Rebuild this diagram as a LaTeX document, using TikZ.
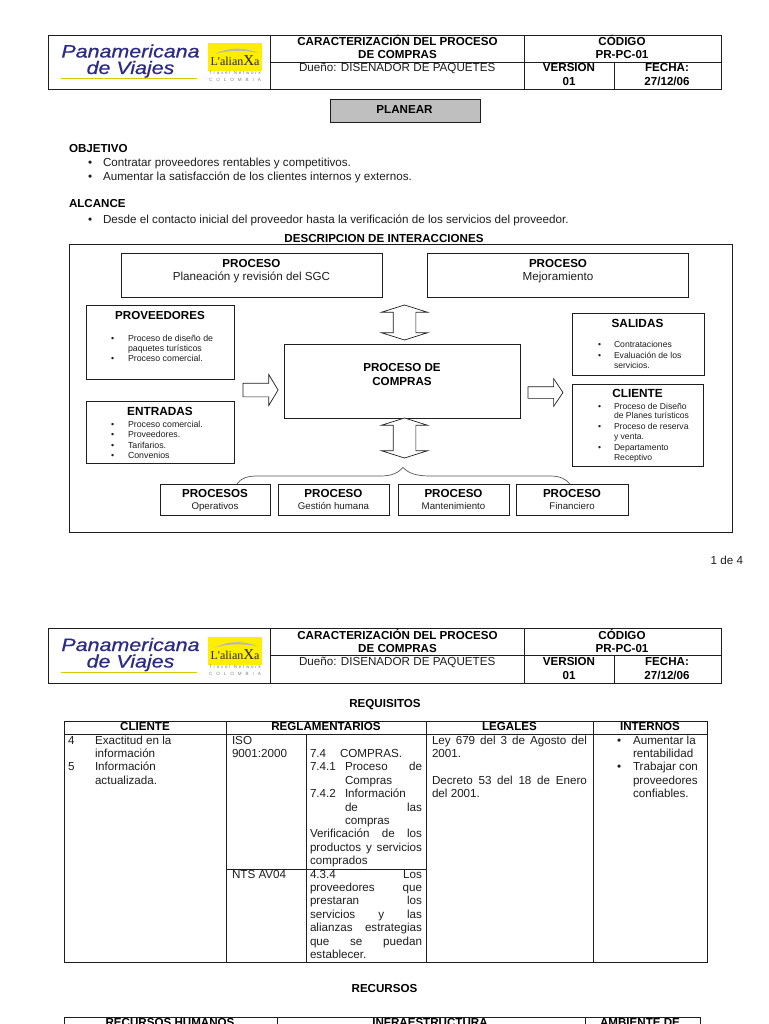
\documentclass[tikz,border=0pt]{standalone}
\usepackage{fontspec}
\usepackage{graphicx}
\setmainfont{Liberation Sans}
\newfontfamily\logoserif{Liberation Serif}
\newfontfamily\logosans[FakeBold=0.6]{Liberation Sans}
\usetikzlibrary{shapes.arrows}
\definecolor{ink}{HTML}{1E1E1E}
\definecolor{logoblue}{HTML}{2B2A86}
\definecolor{logoyellow}{HTML}{FFEE00}
\newcommand\bx[6][]{\node[bxs,#1,minimum width={(#5-#3)*1pt},minimum height={(#6-#4)*1pt}] (#2) at ({(#3+#5)/2},{(#4+#6)/2}) {};}
\newcommand\J[2]{\makebox[#1pt][s]{#2}}
\newcommand\logoword[1]{\scalebox{1.19}[1]{\logosans\itshape #1}}
\tikzset{
  bxs/.style={draw=ink,line width=.8pt,inner sep=0,outer sep=0,fill=white},
  tl/.style={anchor=base west,inner sep=0,outer sep=0,text=ink},
  tc/.style={anchor=base,inner sep=0,outer sep=0,text=ink},
  tr/.style={anchor=base east,inner sep=0,outer sep=0,text=ink},
  body/.style={font=\fontsize{11.65}{13}\selectfont},
  head/.style={font=\fontsize{11.6}{13}\selectfont\bfseries,text=black},
  bighead/.style={font=\fontsize{11.8}{13}\selectfont\bfseries,text=black},
  tiny/.style={font=\fontsize{8.8}{10}\selectfont},
  tinyr/.style={font=\fontsize{8.6}{10}\selectfont},
  sub/.style={font=\fontsize{9.7}{11}\selectfont},
  rule/.style={draw=ink,line width=.8pt},
  blockr/.style={single arrow,draw=ink,line width=.7pt,fill=white,inner xsep=0pt,outer sep=0},
  blockd/.style={double arrow,draw=ink,line width=.7pt,fill=white,inner xsep=0pt,outer sep=0,rotate=90},
  pics/pagehead/.style={code={
    \bx{-frame}{48}{35}{721}{89.5}
    \draw[rule] (270,35) -- (270,89.5) (524,35) -- (524,89.5) (270,62) -- (721,62) (614,62) -- (614,89.5);
    \node[tc,font=\fontsize{18}{18}\selectfont,text=logoblue] (-pan) at (130.5,57.5) {\logoword{Panamericana}};
    \node[tc,font=\fontsize{18}{18}\selectfont,text=logoblue] (-via) at (130.5,74) {\logoword{de Viajes}};
    \draw[draw=logoyellow!85!black,line width=1pt] (61,79) -- (197,79);
    \fill[logoyellow] (208,43) rectangle (262,71);
    \fill[gray!55] (215,54) .. controls (228,47) and (245,47) .. (258,53) .. controls (245,50) and (228,50) .. (215,54);
    \node[tc,font=\logoserif\fontsize{12}{12}\selectfont,text=black!85] (-ali) at (235,66) {L'alian\fontsize{15}{15}\selectfont X\fontsize{12}{12}\selectfont a};
    \node[tc,font=\fontsize{4.6}{5}\selectfont,text=gray] (-tn) at (235,75) {\J{52}{T r a v e l\ \ N e t w o r k}};
    \node[tc,font=\fontsize{4.6}{5}\selectfont,text=gray] (-col) at (235,81.5) {\J{52}{C O L O M B I A}};
    \node[tc,head] (-c1) at (397.5,46) {CARACTERIZACIÓN DEL PROCESO};
    \node[tc,head] (-c2) at (397.5,59) {DE COMPRAS};
    \node[tl,body] (-due) at (299,72) {Dueño: DISENADOR DE PAQUETES};
    \node[tc,head] (-cod) at (622,46) {CÓDIGO};
    \node[tc,head] (-pr) at (622,59) {PR-PC-01};
    \node[tc,head] (-ver) at (569,72) {VERSION};
    \node[tc,head] (-v01) at (569,86) {01};
    \node[tc,head] (-fec) at (667,72) {FECHA:};
    \node[tc,head] (-fdt) at (667,86) {27/12/06};
  }}
}
\begin{document}
\begin{tikzpicture}[x=1pt,y=-1pt]
\useasboundingbox (0,0) rectangle (768,1024);
\fill[white] (0,0) rectangle (768,1024);
\pic (ha) at (0,0) {pagehead};
\pic (hb) at (0,593.5) {pagehead};

% PLANEAR
\bx[fill=gray!50]{plan}{330}{99}{480}{122}
\node[tc,head] (plant) at (404.5,114) {PLANEAR};

% Objetivo / alcance
\node[tl,head] (obj) at (69,153) {OBJETIVO};
\node[tl,body] (ob1) at (88,167) {•};
\node[tl,body] (ob1t) at (103,167) {Contratar proveedores rentables y competitivos.};
\node[tl,body] (ob2) at (88,181) {•};
\node[tl,body] (ob2t) at (103,181) {Aumentar la satisfacción de los clientes internos y externos.};
\node[tl,head] (alc) at (69,208) {ALCANCE};
\node[tl,body] (al1) at (88,223) {•};
\node[tl,body] (al1t) at (103,223) {Desde el contacto inicial del proveedor hasta la verificación de los servicios del proveedor.};
\node[tc,head] (desc) at (384,243) {DESCRIPCION DE INTERACCIONES};

% Diagram frame
\bx{outer}{69}{244.5}{732}{532.5}
\bx{p1}{121}{253}{382}{297}
\node[tc,head] (p1a) at (251.5,267) {PROCESO};
\node[tc,body] (p1b) at (251.5,280) {Planeación y revisión del SGC};
\bx{p2}{427}{253}{688}{297}
\node[tc,head] (p2a) at (558,267) {PROCESO};
\node[tc,body] (p2b) at (558,280) {Mejoramiento};

\bx{prov}{86}{305}{234}{379}
\node[tc,head] (provt) at (160,319) {PROVEEDORES};
\node[tl,tiny] (pv1b) at (111,341) {•};
\node[tl,tiny] (pv1) at (128,341) {Proceso de diseño de};
\node[tl,tiny] (pv2) at (128,351) {paquetes turísticos};
\node[tl,tiny] (pv3b) at (111,361) {•};
\node[tl,tiny] (pv3) at (128,361) {Proceso comercial.};

\bx{ent}{86}{401}{234}{463}
\node[tc,bighead] (entt) at (160,415) {ENTRADAS};
\node[tl,tiny] (en1b) at (111,427) {•};
\node[tl,tiny] (en1) at (128,427) {Proceso comercial.};
\node[tl,tiny] (en2b) at (111,437) {•};
\node[tl,tiny] (en2) at (128,437) {Proveedores.};
\node[tl,tiny] (en3b) at (111,448) {•};
\node[tl,tiny] (en3) at (128,448) {Tarifarios.};
\node[tl,tiny] (en4b) at (111,458) {•};
\node[tl,tiny] (en4) at (128,458) {Convenios};

\bx{cen}{284}{344}{520}{418}
\node[tc,head] (cena) at (402,371) {PROCESO DE};
\node[tc,head] (cenb) at (402,385) {COMPRAS};

\bx{sal}{572}{313}{704}{375}
\node[tc,bighead] (salt) at (637.5,327) {SALIDAS};
\node[tl,tinyr] (sa1b) at (598,347) {•};
\node[tl,tinyr] (sa1) at (614,347) {Contrataciones};
\node[tl,tinyr] (sa2b) at (598,358) {•};
\node[tl,tinyr] (sa2) at (614,358) {Evaluación de los};
\node[tl,tinyr] (sa3) at (614,368) {servicios.};

\bx{cli}{572}{384}{703}{466}
\node[tc,bighead] (clit) at (637.5,397) {CLIENTE};
\node[tl,tinyr] (cl1b) at (598,409) {•};
\node[tl,tinyr] (cl1) at (614,409) {Proceso de Diseño};
\node[tl,tinyr] (cl2) at (614,418) {de Planes turísticos};
\node[tl,tinyr] (cl3b) at (598,429) {•};
\node[tl,tinyr] (cl3) at (614,429) {Proceso de reserva};
\node[tl,tinyr] (cl4) at (614,439) {y venta.};
\node[tl,tinyr] (cl5b) at (598,450) {•};
\node[tl,tinyr] (cl5) at (614,450) {Departamento};
\node[tl,tinyr] (cl6) at (614,460) {Receptivo};

\bx{b1}{160}{484}{270}{515}
\node[tc,head] (b1a) at (215,497) {PROCESOS};
\node[tc,sub] (b1b) at (215,509) {Operativos};
\bx{b2}{278}{484}{389}{515}
\node[tc,head] (b2a) at (333.5,497) {PROCESO};
\node[tc,sub] (b2b) at (333.5,509) {Gestión humana};
\bx{b3}{398}{484}{509}{515}
\node[tc,head] (b3a) at (453.5,497) {PROCESO};
\node[tc,sub] (b3b) at (453.5,509) {Mantenimiento};
\bx{b4}{516}{484}{628}{515}
\node[tc,head] (b4a) at (572,497) {PROCESO};
\node[tc,sub] (b4b) at (572,509) {Financiero};

% block arrows
\node[blockr,inner ysep=6.5pt,minimum height=35pt,single arrow head extend=8.5pt,single arrow tip angle=118] (arl) at (258.5,390) {};
\node[blockr,inner ysep=5.5pt,minimum height=35pt,single arrow head extend=8pt,single arrow tip angle=112] (arr) at (543.5,392.5) {};
\node[blockd,inner ysep=11pt,minimum height=35pt,double arrow head extend=11.5pt,double arrow tip angle=145] (aru) at (404.5,322.5) {};
\node[blockd,inner ysep=11pt,minimum height=40pt,double arrow head extend=11.5pt,double arrow tip angle=145] (ard) at (404.5,438) {};

% brace
\coordinate (brl) at (237,484);
\coordinate (brm) at (403,467.5);
\coordinate (brr) at (570,484);
\draw[draw=ink!75,line width=.7pt] (brl) .. controls (241,478) and (247,476) .. (258,476) -- (380,476) .. controls (392,476) and (398,473) .. (brm) .. controls (408,473) and (416,476) .. (430,476) -- (550,476) .. controls (560,476) and (566,479) .. (brr);

\node[tr,body] (pg) at (743,564) {1 de 4};

% Requisitos
\node[tc,head] (req) at (385,707) {REQUISITOS};
\bx{t1}{64}{721}{707}{962.5}
\draw[rule] (64,734) -- (707,734) (226,721) -- (226,962.5) (306,734) -- (306,962.5) (426.5,721) -- (426.5,962.5) (593,721) -- (593,962.5) (226,869) -- (426.5,869);
\node[tc,head] (h1) at (145,730) {CLIENTE};
\node[tc,head] (h2) at (326,730) {REGLAMENTARIOS};
\node[tc,head] (h3) at (509.5,730) {LEGALES};
\node[tc,head] (h4) at (650,730) {INTERNOS};

\node[tl,body] (c1) at (68,744) {4};
\node[tl,body] (c2) at (95,744) {Exactitud en la};
\node[tl,body] (c3) at (95,757.4) {información};
\node[tl,body] (c4) at (68,770.8) {5};
\node[tl,body] (c5) at (95,770.8) {Información};
\node[tl,body] (c6) at (95,784.2) {actualizada.};

\node[tl,body] (r1) at (232,744) {ISO};
\node[tl,body] (r2) at (232,757.4) {9001:2000};
\node[tl,body] (r3) at (232,878) {NTS AV04};

\node[tl,body] (s1) at (310,757.4) {7.4};
\node[tl,body] (s1b) at (340,757.4) {COMPRAS.};
\node[tl,body] (s2) at (310,770.8) {7.4.1};
\node[tl,body] (s2b) at (345,770.8) {\J{77}{Proceso de}};
\node[tl,body] (s3) at (345,784.2) {Compras};
\node[tl,body] (s4) at (310,797.6) {7.4.2};
\node[tl,body] (s4b) at (345,797.6) {Información};
\node[tl,body] (s5) at (345,811) {\J{77}{de las}};
\node[tl,body] (s6) at (345,824.4) {compras};
\node[tl,body] (s7) at (310,837.8) {\J{112}{Verificación de los}};
\node[tl,body] (s8) at (310,851.2) {\J{112}{productos y servicios}};
\node[tl,body] (s9) at (310,864.6) {comprados};
\node[tl,body] (n1) at (310,878) {\J{112}{4.3.4 Los}};
\node[tl,body] (n2) at (310,891.4) {\J{112}{proveedores que}};
\node[tl,body] (n3) at (310,904.8) {\J{112}{prestaran los}};
\node[tl,body] (n4) at (310,918.2) {\J{112}{servicios y las}};
\node[tl,body] (n5) at (310,931.6) {\J{112}{alianzas estrategias}};
\node[tl,body] (n6) at (310,945) {\J{112}{que se puedan}};
\node[tl,body] (n7) at (310,958.4) {establecer.};

\node[tl,body] (l1) at (432,744) {\J{155}{Ley 679 del 3 de Agosto del}};
\node[tl,body] (l2) at (432,757.4) {2001.};
\node[tl,body] (l3) at (432,784.2) {\J{155}{Decreto 53 del 18 de Enero}};
\node[tl,body] (l4) at (432,797.6) {del 2001.};

\node[tl,body] (i1b) at (617,744) {•};
\node[tl,body] (i1) at (633,744) {Aumentar la};
\node[tl,body] (i2) at (633,757.4) {rentabilidad};
\node[tl,body] (i3b) at (617,770.8) {•};
\node[tl,body] (i3) at (633,770.8) {Trabajar con};
\node[tl,body] (i4) at (633,784.2) {proveedores};
\node[tl,body] (i5) at (633,797.6) {confiables.};

% Recursos
\node[tc,head] (rec) at (384.5,992) {RECURSOS};
\draw[rule] (64,1030) -- (64,1017.5) -- (700,1017.5) -- (700,1030) (277,1017.5) -- (277,1030) (585,1017.5) -- (585,1030);
\node[tc,head] (g1) at (170,1026) {RECURSOS HUMANOS};
\node[tc,head] (g2) at (430,1026) {INFRAESTRUCTURA};
\node[tc,head] (g3) at (640,1026) {AMBIENTE DE};
\end{tikzpicture}
\end{document}
